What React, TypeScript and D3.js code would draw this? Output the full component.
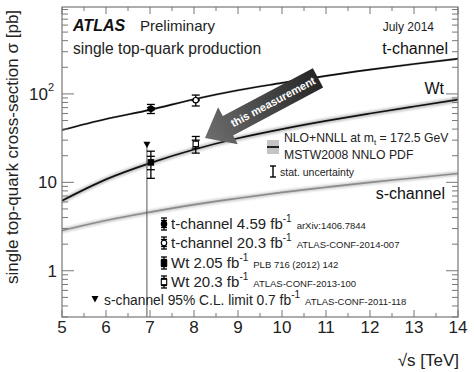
import React from "react";
import * as d3 from "d3";

// ---------- data ----------
const energies = [5, 6, 7, 8, 9, 10, 11, 12, 13, 14];
const tChannelTheory = [39, 52, 66, 87, 110, 133, 160, 188, 218, 250];
const wtTheory = [6.2, 10.8, 16.5, 23.5, 31.5, 40, 49.5, 60, 72, 86];
const sChannelTheory = [2.85, 3.7, 4.6, 5.6, 6.6, 7.7, 8.8, 10, 11.2, 12.6];
const tChannelUnc = 0.03;
const wtUnc = 0.07;
const sChannelUnc = 0.06;

const measEnergy = [7.02, 8.04, 7.02, 8.04];
const measValue = [68, 85, 16.8, 27.2];
const measStat = [2, 1.2, 2.9, 2.8];
const measTotal = [8, 12, 5.7, 5.8];
const measFilled = [true, false, true, false];
const measShape = ["circle", "circle", "square", "square"];

const sLimitEnergy = 6.93;
const sLimitValue = 26.5;

const xTickLabels = [5, 6, 7, 8, 9, 10, 11, 12, 13, 14];
const yMajorTicks = [1, 10, 100];

const legendMain = ["t-channel 4.59 fb", "t-channel 20.3 fb", "Wt 2.05 fb", "Wt 20.3 fb"];
const legendRefs = ["arXiv:1406.7844", "ATLAS-CONF-2014-007", "PLB 716 (2012) 142", "ATLAS-CONF-2013-100"];
const sLegendMain = "s-channel 95% C.L. limit 0.7 fb";
const sLegendRef = "ATLAS-CONF-2011-118";

// ---------- layout ----------
const W = 474;
const H = 372;
const L = 62, R = 458, T = 7, B = 317;
const FONT = "'Liberation Sans', Arial, Helvetica, sans-serif";

const x = d3.scaleLinear().domain([5, 14]).range([L, R]);
const y = d3.scaleLog().domain([0.3, 961]).range([B, T]);

function curvePath(vals: number[]) {
  return d3
    .line<number>()
    .x((_, i) => x(energies[i]))
    .y((v) => y(v))
    .curve(d3.curveMonotoneX)(vals) as string;
}
function bandPath(vals: number[], u: number) {
  return d3
    .area<number>()
    .x((_, i) => x(energies[i]))
    .y0((v) => y(v * (1 - u)))
    .y1((v) => y(v * (1 + u)))
    .curve(d3.curveMonotoneX)(vals) as string;
}

function Marker({ cx, cy, shape, filled }: { cx: number; cy: number; shape: string; filled: boolean }) {
  const fill = filled ? "#000" : "#fff";
  if (shape === "circle") return <circle cx={cx} cy={cy} r={2.7} fill={fill} stroke="#000" strokeWidth={1.1} />;
  return <rect x={cx - 2.7} y={cy - 2.7} width={5.4} height={5.4} fill={fill} stroke="#000" strokeWidth={1.1} />;
}

function ErrBar({ cx, yLo, yHi, sLo, sHi, cap }: { cx: number; yLo: number; yHi: number; sLo: number; sHi: number; cap: number }) {
  return (
    <g stroke="#000" strokeWidth={1.3}>
      <line x1={cx} x2={cx} y1={yLo} y2={yHi} />
      <line x1={cx - cap} x2={cx + cap} y1={yLo} y2={yLo} />
      <line x1={cx - cap} x2={cx + cap} y1={yHi} y2={yHi} />
      <line x1={cx - cap} x2={cx + cap} y1={sLo} y2={sLo} />
      <line x1={cx - cap} x2={cx + cap} y1={sHi} y2={sHi} />
    </g>
  );
}

export default function App() {
  const xMinor: number[] = [];
  for (let v = 5; v <= 14.001; v += 0.5) xMinor.push(v);
  const yMinor: number[] = [];
  for (const dec of [0.1, 1, 10, 100]) {
    for (let k = 2; k <= 9; k++) {
      const v = k * dec;
      if (v >= 0.3 && v <= 961) yMinor.push(v);
    }
  }

  const legendRowsY = [229, 248, 268, 287];

  const aL = 128, aH = 26, aW = 42, aB = 22;
  const arrowPts = [
    [0, 0], [aH, -aW / 2], [aH, -aB / 2], [aL, -aB / 2], [aL, aB / 2], [aH, aB / 2], [aH, aW / 2],
  ].map((p) => p.join(",")).join(" ");

  return (
    <svg width={W} height={H} style={{ position: "absolute", left: 0, top: 0, background: "#fff" }} fontFamily={FONT}>
      <defs>
        <clipPath id="plot">
          <rect x={L} y={T} width={R - L} height={B - T} />
        </clipPath>
        <linearGradient id="arrowGrad" gradientUnits="userSpaceOnUse" x1={0} y1={0} x2={aL} y2={0}>
          <stop offset="0" stopColor="#6e6e6e" />
          <stop offset="0.5" stopColor="#4a4a4a" />
          <stop offset="1" stopColor="#262626" />
        </linearGradient>
        <filter id="blur1" x="-5%" y="-50%" width="110%" height="200%">
          <feGaussianBlur stdDeviation="0.8" />
        </filter>
      </defs>

      <rect x={0} y={0} width={W} height={H} fill="#fff" />

      <g clipPath="url(#plot)">
        <path d={bandPath(sChannelTheory, sChannelUnc)} fill="#cfcfcf" filter="url(#blur1)" />
        <path d={curvePath(sChannelTheory)} fill="none" stroke="#8c8c8c" strokeWidth={1.6} />
        <path d={bandPath(wtTheory, wtUnc)} fill="#c4c4c4" filter="url(#blur1)" />
        <path d={curvePath(wtTheory)} fill="none" stroke="#111" strokeWidth={1.7} />
        <path d={bandPath(tChannelTheory, tChannelUnc)} fill="#cfcfcf" />
        <path d={curvePath(tChannelTheory)} fill="none" stroke="#111" strokeWidth={1.7} />
      </g>

      <line x1={x(sLimitEnergy)} x2={x(sLimitEnergy)} y1={y(sLimitValue)} y2={B} stroke="#555" strokeWidth={1} />
      <path
        d={`M${x(sLimitEnergy) - 3.5},${y(sLimitValue) - 3.2} L${x(sLimitEnergy) + 3.5},${y(sLimitValue) - 3.2} L${x(sLimitEnergy)},${y(sLimitValue) + 3.2} Z`}
        fill="#000"
      />

      {measValue.map((v, i) => {
        const cx = x(measEnergy[i]);
        return (
          <g key={i}>
            <ErrBar
              cx={cx}
              yLo={y(v - measTotal[i])}
              yHi={y(v + measTotal[i])}
              sLo={y(v - measStat[i])}
              sHi={y(v + measStat[i])}
              cap={4}
            />
            <Marker cx={cx} cy={y(v)} shape={measShape[i]} filled={measFilled[i]} />
          </g>
        );
      })}

      <rect x={L} y={T} width={R - L} height={B - T} fill="none" stroke="#777" strokeWidth={1.2} />
      <g stroke="#777" strokeWidth={1}>
        {xMinor.map((v) => {
          const major = Math.abs(v - Math.round(v)) < 1e-6;
          const len = major ? 7 : 4;
          return (
            <g key={"x" + v}>
              <line x1={x(v)} x2={x(v)} y1={B} y2={B - len} />
              <line x1={x(v)} x2={x(v)} y1={T} y2={T + len} />
            </g>
          );
        })}
        {yMajorTicks.map((v) => (
          <g key={"yM" + v}>
            <line x1={L} x2={L + 12} y1={y(v)} y2={y(v)} />
            <line x1={R} x2={R - 12} y1={y(v)} y2={y(v)} />
          </g>
        ))}
        {yMinor.map((v) => (
          <g key={"ym" + v}>
            <line x1={L} x2={L + 6} y1={y(v)} y2={y(v)} />
            <line x1={R} x2={R - 6} y1={y(v)} y2={y(v)} />
          </g>
        ))}
      </g>

      <g fontSize={17} fill="#222">
        {xTickLabels.map((v) => (
          <text key={"xl" + v} x={x(v)} y={333} textAnchor="middle">
            {v}
          </text>
        ))}
        <text x={57} y={y(1) + 6} textAnchor="end">1</text>
        <text x={57} y={y(10) + 6} textAnchor="end">10</text>
        <text x={48} y={y(100) + 6} textAnchor="end">10</text>
        <text x={48} y={y(100) - 3} fontSize={11}>2</text>
      </g>

      <text x={459} y={366} textAnchor="end" fontSize={17} fill="#222">
        √s [TeV]
      </text>
      <text transform="translate(18,147) rotate(-90)" textAnchor="middle" fontSize={17} fill="#222">
        single top-quark cross-section σ [pb]
      </text>

      <text x={73} y={31} fontSize={16} fontWeight="bold" fontStyle="italic" fill="#111">
        ATLAS
      </text>
      <text x={140} y={31} fontSize={15} fill="#222">Preliminary</text>
      <text x={73} y={54} fontSize={15.6} fill="#222">single top-quark production</text>
      <text x={434} y={30.5} fontSize={12} textAnchor="end" fill="#222">July 2014</text>
      <text x={448} y={54} fontSize={16} textAnchor="end" fill="#111">t-channel</text>
      <text x={444} y={94} fontSize={16} textAnchor="end" fill="#111">Wt</text>
      <text x={445} y={199} fontSize={16} textAnchor="end" fill="#111">s-channel</text>

      <g transform="translate(205,138) rotate(-28)">
        <polygon points={arrowPts} fill="url(#arrowGrad)" />
        <text
          x={aH + (aL - aH) / 2}
          y={0}
          dy="0.35em"
          textAnchor="middle"
          fontSize={11}
          fontWeight="bold"
          fill="#fff"
        >
          this measurement
        </text>
      </g>

      <rect x={267} y={140} width={12} height={14} fill="#c4c4c4" />
      <line x1={267} x2={279} y1={147} y2={147} stroke="#111" strokeWidth={1.8} />
      <text x={284} y={141.5} fontSize={12.2} fill="#222">
        NLO+NNLL at m
        <tspan fontSize={8} dy={3}>t</tspan>
        <tspan dy={-3}> = 172.5 GeV</tspan>
      </text>
      <text x={284} y={158.5} fontSize={12.2} fill="#222">MSTW2008 NNLO PDF</text>
      <g stroke="#000" strokeWidth={1.4}>
        <line x1={273} x2={273} y1={166} y2={177} />
        <line x1={270} x2={276} y1={166} y2={166} />
        <line x1={270} x2={276} y1={177} y2={177} />
      </g>
      <text x={280} y={176} fontSize={10.5} fill="#222">stat. uncertainty</text>

      {legendMain.map((txt, i) => {
        const by = legendRowsY[i];
        const cy = by - 5;
        return (
          <g key={"lg" + i}>
            <ErrBar cx={164} yLo={cy + 6} yHi={cy - 6} sLo={cy + 3.5} sHi={cy - 3.5} cap={3} />
            <Marker cx={164} cy={cy} shape={measShape[i]} filled={measFilled[i]} />
            <text x={171} y={by} fontSize={15} fill="#222">
              {txt}
              <tspan fontSize={10} dy={-7}>-1</tspan>
              <tspan fontSize={9.5} dy={7} dx={5}>{legendRefs[i]}</tspan>
            </text>
          </g>
        );
      })}
      <path d={`M91.5,296 L98.5,296 L95,302.5 Z`} fill="#000" />
      <text x={104} y={305} fontSize={13.8} fill="#222">
        {sLegendMain}
        <tspan fontSize={10} dy={-7}>-1</tspan>
        <tspan fontSize={9.5} dy={7} dx={5}>{sLegendRef}</tspan>
      </text>
    </svg>
  );
}
